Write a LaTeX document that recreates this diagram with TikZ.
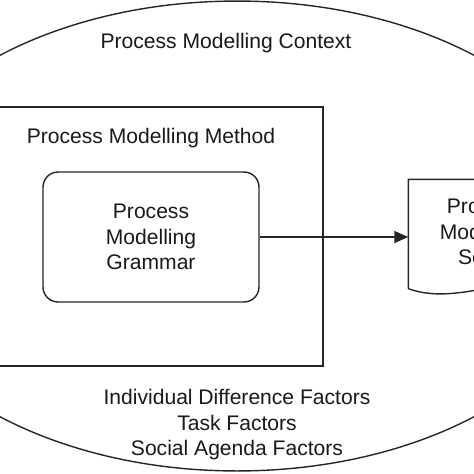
\documentclass[tikz,border=0pt]{standalone}
\usepackage{fontspec}
\setmainfont{Liberation Sans}
\usetikzlibrary{arrows.meta}
\begin{document}
\begin{tikzpicture}[x=0.02cm, y=-0.02cm, line width=0.8pt,
  every node/.style={font=\fontsize{12}{14.5}\selectfont, align=center, text=black!90},
  box/.style={draw=black!85, rounded corners=0.3cm, minimum width=4.32cm, minimum height=2.6cm},
  doc/.style={minimum width=3.04cm, minimum height=2.16cm},
  flow/.style={draw=black!85, -{Triangle[length=0.28cm, width=0.24cm]}}]
  \clip (0,0) rectangle (474,474);
  \draw[black!85] (237,236) ellipse [x radius=7.42cm, y radius=4.7cm];
  \node (context) at (226,43) {Process Modelling Context};

  \draw[black!85] (-20,107) rectangle (323,366);
  \node (method) at (151,138) {Process Modelling Method};
  \node[box] (grammar) at (151,237) {Process\\Modelling\\Grammar};

  \node[doc] (script) at (485,234) {Process\\Modelling\\Script};
  \draw[black!85] (script.south west) -- (script.north west) -- (script.north east) -- (script.south east)
     .. controls +(-50,-18) and +(50,18) .. (script.south west);

  \draw[flow] (grammar) -- (grammar -| script.west);

  \node (factors) at (237,425) {Individual Difference Factors\\Task Factors\\Social Agenda Factors};
\end{tikzpicture}
\end{document}
